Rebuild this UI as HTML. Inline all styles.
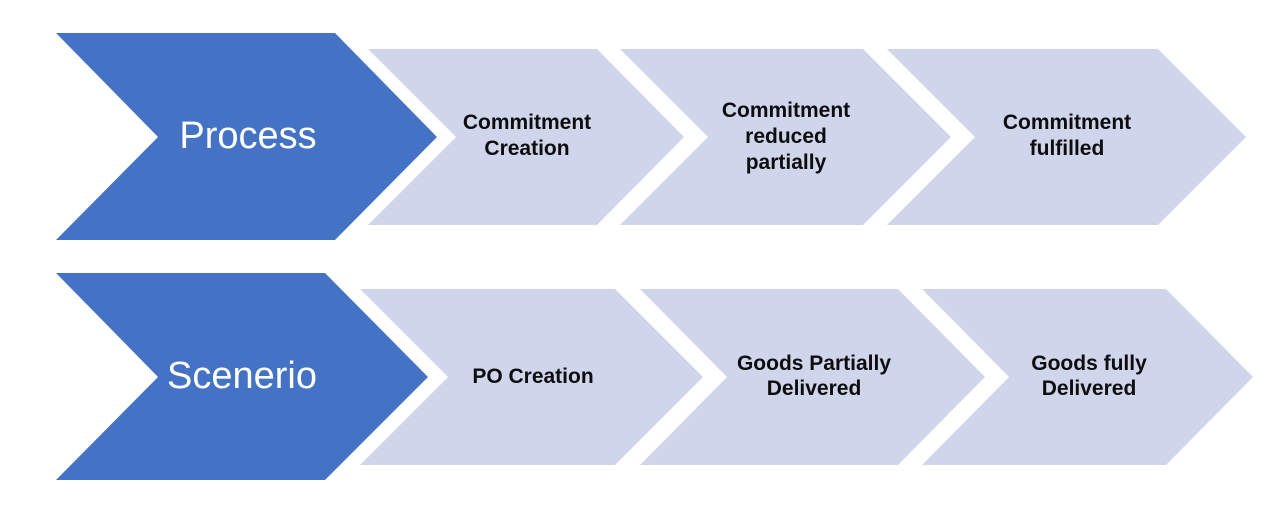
<!DOCTYPE html>
<html>
<head>
<meta charset="utf-8">
<style>
  html,body{margin:0;padding:0;background:#fff;}
  body{width:1280px;height:510px;overflow:hidden;}
  svg{display:block;}
  .lbl{font-family:"Liberation Sans",Arial,sans-serif;font-weight:bold;font-size:21px;fill:#0d0d0d;}
  .big{font-family:"Liberation Sans",Arial,sans-serif;font-size:38px;fill:#ffffff;}
</style>
</head>
<body>
<svg width="1280" height="510" viewBox="0 0 1280 510" xmlns="http://www.w3.org/2000/svg">
  <rect width="1280" height="510" fill="#ffffff"/>
  <!-- Top row -->
  <polygon points="368,49 597,49 684,137 597,225 368,225 456,137" fill="#CFD5EA"/>
  <polygon points="620,49 863,49 951,137 863,225 620,225 708,137" fill="#CFD5EA"/>
  <polygon points="887,49 1158,49 1246,137 1158,225 887,225 975,137" fill="#CFD5EA"/>
  <polygon points="56,33 335,33 437,137 335,240 56,240 158,137" fill="#4472C4"/>

  <text class="big" x="248" y="148" text-anchor="middle">Process</text>
  <text class="lbl" x="527" y="129" text-anchor="middle">Commitment</text>
  <text class="lbl" x="527" y="155" text-anchor="middle">Creation</text>
  <text class="lbl" x="786" y="117" text-anchor="middle">Commitment</text>
  <text class="lbl" x="786" y="143" text-anchor="middle">reduced</text>
  <text class="lbl" x="786" y="169" text-anchor="middle">partially</text>
  <text class="lbl" x="1067" y="129" text-anchor="middle">Commitment</text>
  <text class="lbl" x="1067" y="155" text-anchor="middle">fulfilled</text>

  <!-- Bottom row -->
  <polygon points="360,289 615,289 703,377 615,465 360,465 448,377" fill="#CFD5EA"/>
  <polygon points="640,289 898,289 985,377 898,465 640,465 727,377" fill="#CFD5EA"/>
  <polygon points="922,289 1166,289 1253,377 1166,465 922,465 1009,377" fill="#CFD5EA"/>
  <polygon points="56,273 325,273 428,377 325,480 56,480 158,377" fill="#4472C4"/>

  <text class="big" x="242" y="388" text-anchor="middle">Scenerio</text>
  <text class="lbl" x="533" y="383" text-anchor="middle">PO Creation</text>
  <text class="lbl" x="814" y="370" text-anchor="middle">Goods Partially</text>
  <text class="lbl" x="814" y="395" text-anchor="middle">Delivered</text>
  <text class="lbl" x="1089" y="370" text-anchor="middle">Goods fully</text>
  <text class="lbl" x="1089" y="395" text-anchor="middle">Delivered</text>
</svg>
</body>
</html>
